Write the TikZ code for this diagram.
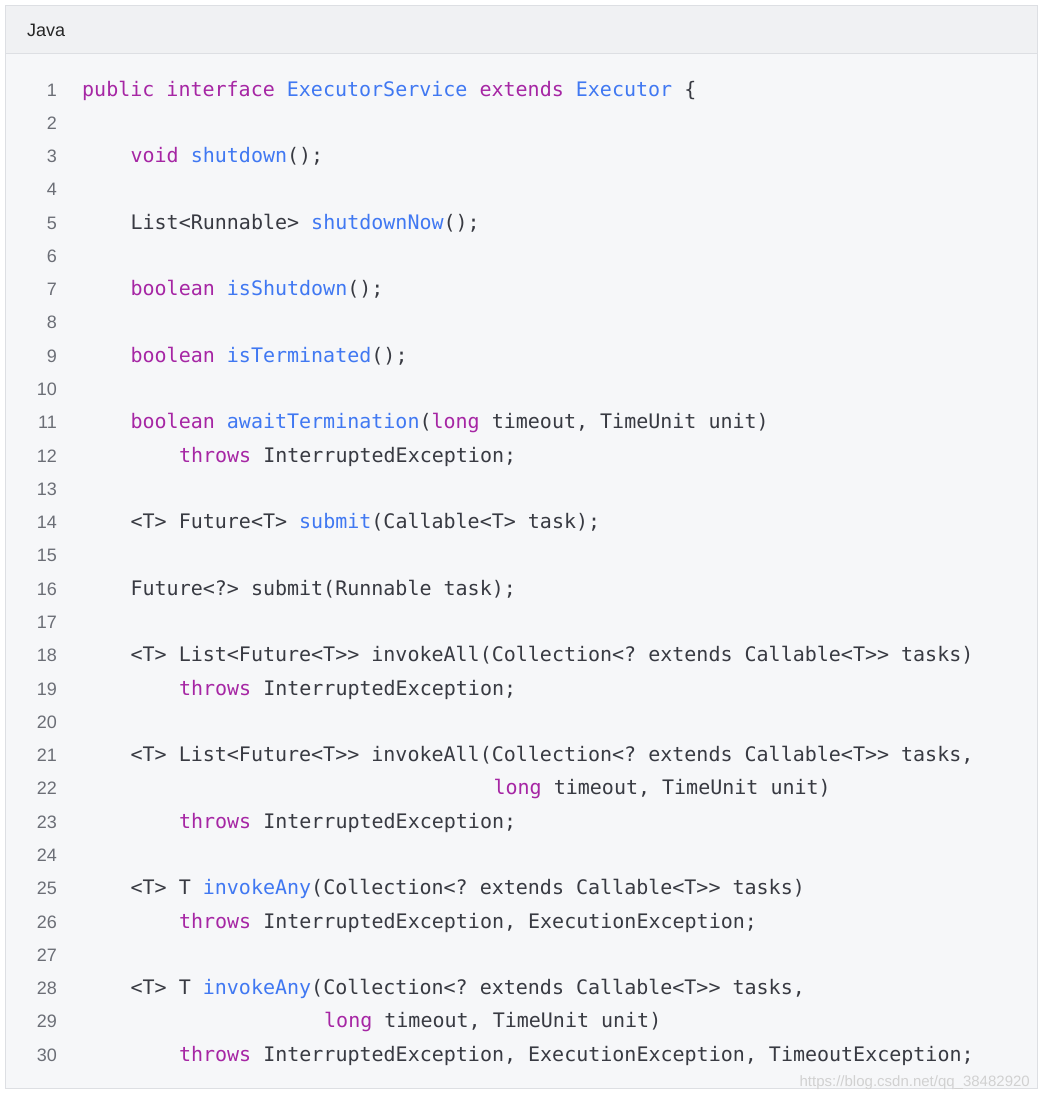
\documentclass[tikz,border=0pt]{standalone}
\usepackage{fontspec}
\setmonofont{DejaVu Sans Mono}
\newfontfamily\numfont{Liberation Sans}
\definecolor{kw}{HTML}{A626A4}
\definecolor{fn}{HTML}{4078F2}
\definecolor{tx}{HTML}{383A42}
\definecolor{ln}{HTML}{6B6E76}
\definecolor{hdr}{HTML}{F0F1F3}
\definecolor{bd}{HTML}{F6F7F9}
\definecolor{brd}{HTML}{DDDFE3}
\newcommand{\K}[1]{\textcolor{kw}{#1}}
\newcommand{\F}[1]{\textcolor{fn}{#1}}
\newcommand{\cl}[3]{%
  \node[numtxt] (n#1) at (57,{90+(#1-1)*33.28+6}) {#1};
  \node[codetxt] (c#1) at ({82+#2*12.1},{90+(#1-1)*33.28+6}) {#3};}
\tikzset{
  codetxt/.style={anchor=base west,inner sep=0pt,font=\ttfamily\fontsize{20}{20}\selectfont,text=tx},
  numtxt/.style={anchor=base east,inner sep=0pt,font=\numfont\fontsize{18}{18}\selectfont,text=ln}}
\begin{document}
\begin{tikzpicture}[x=1pt,y=-1pt]
\useasboundingbox (0,0) rectangle (1038,1098);
\fill[bd] (5,53) rectangle (1037,1088);
\fill[hdr] (5,5) rectangle (1037,53);
\draw[brd] (5,5) rectangle (1037,1088);
\draw[brd] (5,53) -- (1037,53);
\node[anchor=base west,inner sep=0pt,font=\numfont\fontsize{18}{18}\selectfont,text=black!85] (hdrlbl) at (27,36) {Java};
\cl{1}{0}{\K{public interface} \F{ExecutorService} \K{extends} \F{Executor} \{}
\cl{2}{0}{}
\cl{3}{4}{\K{void} \F{shutdown}();}
\cl{4}{0}{}
\cl{5}{4}{List<Runnable> \F{shutdownNow}();}
\cl{6}{0}{}
\cl{7}{4}{\K{boolean} \F{isShutdown}();}
\cl{8}{0}{}
\cl{9}{4}{\K{boolean} \F{isTerminated}();}
\cl{10}{0}{}
\cl{11}{4}{\K{boolean} \F{awaitTermination}(\K{long} timeout, TimeUnit unit)}
\cl{12}{8}{\K{throws} InterruptedException;}
\cl{13}{0}{}
\cl{14}{4}{<T> Future<T> \F{submit}(Callable<T> task);}
\cl{15}{0}{}
\cl{16}{4}{Future<?> submit(Runnable task);}
\cl{17}{0}{}
\cl{18}{4}{<T> List<Future<T>{}> invokeAll(Collection<? extends Callable<T>{}> tasks)}
\cl{19}{8}{\K{throws} InterruptedException;}
\cl{20}{0}{}
\cl{21}{4}{<T> List<Future<T>{}> invokeAll(Collection<? extends Callable<T>{}> tasks,}
\cl{22}{34}{\K{long} timeout, TimeUnit unit)}
\cl{23}{8}{\K{throws} InterruptedException;}
\cl{24}{0}{}
\cl{25}{4}{<T> T \F{invokeAny}(Collection<? extends Callable<T>{}> tasks)}
\cl{26}{8}{\K{throws} InterruptedException, ExecutionException;}
\cl{27}{0}{}
\cl{28}{4}{<T> T \F{invokeAny}(Collection<? extends Callable<T>{}> tasks,}
\cl{29}{20}{\K{long} timeout, TimeUnit unit)}
\cl{30}{8}{\K{throws} InterruptedException, ExecutionException, TimeoutException;}
\node[anchor=base east,inner sep=0pt,font=\numfont\fontsize{15}{15}\selectfont,text=black!18] (wm) at (1030,1086) {https://blog.csdn.net/qq\_38482920};
\end{tikzpicture}
\end{document}
